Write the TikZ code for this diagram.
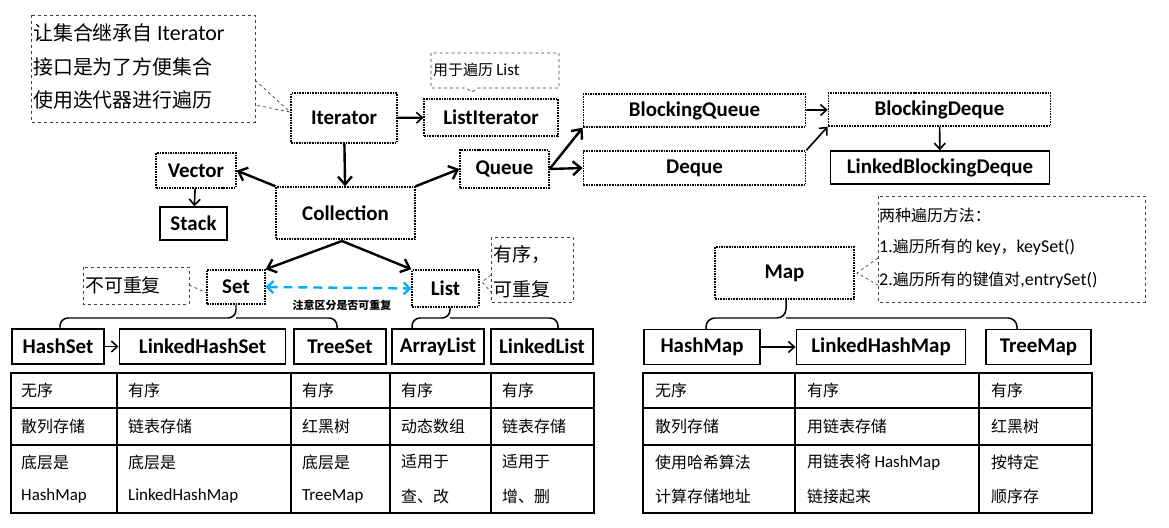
\documentclass[tikz,border=0pt]{standalone}
\usepackage{fontspec}
\setmainfont{Carlito}
\newfontfamily\cjk{Noto Sans CJK SC}
\usetikzlibrary{arrows.meta,decorations.pathreplacing}
\begin{document}
\begin{tikzpicture}[x=1bp,y=-1bp,
 dot/.style={draw,densely dotted,line width=1.6pt,font=\bfseries\fontsize{21}{21}\selectfont,inner sep=0},
 sol/.style={draw,line width=1.6pt,font=\bfseries\fontsize{21}{21}\selectfont,inner sep=0},
 note/.style={draw=black!75,dashed,line width=0.7pt},
 ar/.style={-{Straight Barb[length=8pt,width=14pt,line width=2.4pt]},line width=2.4pt},
 ars/.style={-{Straight Barb[length=6pt,width=11pt,line width=1.6pt]},line width=1.6pt},
 cell/.style={anchor=west,font=\cjk\fontsize{16}{16}\selectfont,inner sep=0},
 ntxt/.style={anchor=west,inner sep=0}]
\useasboundingbox (0,0) rectangle (1169,528);
% notes
\draw[note] (31,15) rectangle (255,122);
\node[ntxt,font=\cjk\fontsize{20}{20}\selectfont] (n1a) at (33,33) {让集合继承自 {\rmfamily\fontsize{22}{22}\selectfont Iterator}};
\node[ntxt,font=\cjk\fontsize{20}{20}\selectfont] (n1b) at (33,67) {接口是为了方便集合};
\node[ntxt,font=\cjk\fontsize{20}{20}\selectfont] (n1c) at (33,100) {使用迭代器进行遍历};
\draw[note] (255,80) -- (290,112) -- (255,105);
\draw[note] (431,53) -- (431,88) -- (466,88) -- (472,92) -- (478,88) -- (559,88) -- (559,53) -- cycle;
\node[ntxt,font=\cjk\fontsize{15}{15}\selectfont] (n2) at (433,70) {用于遍历 {\rmfamily\fontsize{17}{17}\selectfont List}};
\draw[note] (83,267) rectangle (189,304);
\node[ntxt,font=\cjk\fontsize{19}{19}\selectfont] (n3) at (85,285) {不可重复};
\draw[note] (189,285) -- (207,293);
\draw[note] (491,237) rectangle (573,302);
\node[ntxt,font=\cjk\fontsize{19}{19}\selectfont] (n4a) at (493,255) {有序，};
\node[ntxt,font=\cjk\fontsize{19}{19}\selectfont] (n4b) at (493,289) {可重复};
\draw[note] (491,275) -- (482,282) -- (491,292);
\draw[note] (878,196) rectangle (1145,302);
\node[ntxt,font=\cjk\fontsize{16}{16}\selectfont] (n5a) at (879,215) {两种遍历方法：};
\node[ntxt,font=\cjk\fontsize{16}{16}\selectfont] (n5b) at (879,247) {{\rmfamily\fontsize{18}{18}\selectfont 1.}遍历所有的 {\rmfamily\fontsize{18}{18}\selectfont key}，{\rmfamily\fontsize{18}{18}\selectfont keySet()}};
\node[ntxt,font=\cjk\fontsize{16}{16}\selectfont] (n5c) at (879,280) {{\rmfamily\fontsize{18}{18}\selectfont 2.}遍历所有的键值对{\rmfamily\fontsize{18}{18}\selectfont ,entrySet()}};
\draw[note] (878,258) -- (857,273) -- (878,285);
% nodes
\node[dot,minimum width=106,minimum height=50] (it) at (344,118) {Iterator};
\node[dot,minimum width=134,minimum height=37] (li) at (491,117.5) {ListIterator};
\node[dot,minimum width=80,minimum height=35] (vec) at (196,170.5) {Vector};
\node[sol,minimum width=67,minimum height=33] (st) at (193.5,223.5) {Stack};
\node[dot,minimum width=139,minimum height=52] (col) at (345.5,213) {Collection};
\node[dot,minimum width=89,minimum height=38] (q) at (504.5,169) {Queue};
\node[dot,minimum width=223,minimum height=33] (bq) at (694.5,110.5) {BlockingQueue};
\node[dot,minimum width=223,minimum height=34] (dq) at (694.5,168) {Deque};
\node[dot,minimum width=223,minimum height=33] (bd) at (939.5,109.5) {BlockingDeque};
\node[sol,minimum width=220,minimum height=33] (lbd) at (940,167.5) {LinkedBlockingDeque};
\node[dot,minimum width=58,minimum height=34] (set) at (236,287) {Set};
\node[dot,minimum width=67,minimum height=37] (lst) at (445.5,288.5) {List};
\node[dot,minimum width=139,minimum height=52] (map) at (784.5,273) {Map};
% header boxes
\node[sol,minimum width=92,minimum height=35] (hs) at (58,346.5) {HashSet};
\node[sol,minimum width=167,minimum height=35] (lhs) at (202.5,346.5) {LinkedHashSet};
\node[sol,minimum width=92,minimum height=35] (ts) at (340,346.5) {TreeSet};
\node[sol,minimum width=92,minimum height=35] (al) at (438,346.5) {ArrayList};
\node[sol,minimum width=102,minimum height=35] (ll) at (542,346.5) {LinkedList};
\node[sol,minimum width=116,minimum height=35] (hm) at (702,347) {HashMap};
\node[sol,minimum width=170,minimum height=35] (lhm) at (881,347) {LinkedHashMap};
\node[sol,minimum width=105,minimum height=35] (tm) at (1038.5,347) {TreeMap};
% arrows
\draw[ars,line width=2.2pt] (it) -- (li);
\draw[ar] (it) -- (col);
\draw[ar] (col.north west) -- (vec.east);
\draw[ars] (vec) -- (st);
\draw[ar] (col.north east) -- (q.west);
\draw[ar] (q.east) -- (bq.south west);
\draw[ar] (q.east) -- (dq.west);
\draw[ars] (bq) -- (bd);
\draw[ars] (dq.north east) -- (bd.south west);
\draw[ars] (bd) -- (lbd);
\coordinate (apex) at (342,241);
\draw[ar] (apex) -- (set.north east);
\draw[ar] (apex) -- (lst.north west);
\draw[{Straight Barb[length=6pt,width=12pt,line width=2.4pt]}-{Straight Barb[length=6pt,width=12pt,line width=2.4pt]},dash pattern=on 9pt off 6pt,line width=2.4pt,draw={rgb,255:red,0;green,176;blue,240}] (set.east) -- (lst.west);
\node[font=\cjk\bfseries\fontsize{11}{11}\selectfont,inner sep=0] (lab) at (342,305) {注意区分是否可重复};
\draw[ars] (hs) -- (lhs);
\draw[ars] (hm) -- (lhm);
% braces
\draw[line width=1.5pt,rounded corners=8pt] (60,329) -- (60,318) -- (236,318) -- (236,305) (236,318) -- (337,318) -- (337,329);
\draw[line width=1.5pt,rounded corners=8pt] (412,329) -- (412,318) -- (450,318) -- (450,308) (450,318) -- (558,318) -- (558,329);
\draw[line width=1.5pt,rounded corners=9pt] (706,329) -- (706,318) -- (786,318) -- (786,299) (786,318) -- (1017,318) -- (1017,329);
% tables
\begin{scope}[line width=2pt]
\draw (11,373) rectangle (594,513);
\foreach \y in {408,445} \draw (11,\y) -- (594,\y);
\foreach \x in {117,291,390,491} \draw (\x,373) -- (\x,513);
\draw (643,373) rectangle (1092,513);
\foreach \y in {408,445} \draw (643,\y) -- (1092,\y);
\foreach \x in {795,979} \draw (\x,373) -- (\x,513);
\end{scope}
\foreach \x/\a/\b/\c/\d in {21/无序/散列存储/底层是/{\rmfamily\fontsize{17}{17}\selectfont HashMap},128/有序/链表存储/底层是/{\rmfamily\fontsize{17}{17}\selectfont LinkedHashMap},302/有序/红黑树/底层是/{\rmfamily\fontsize{17}{17}\selectfont TreeMap},401/有序/动态数组/适用于/查、改,502/有序/链表存储/适用于/增、删,655/无序/散列存储/使用哈希算法/计算存储地址,807/有序/用链表存储/用链表将 {\rmfamily\fontsize{17}{17}\selectfont HashMap}/链接起来,991/有序/红黑树/按特定/顺序存}{
 \node[cell] at (\x,390) {\a};
 \node[cell] at (\x,426) {\b};
 \node[cell] at (\x,462) {\c};
 \node[cell] at (\x,496) {\d};
}
\end{tikzpicture}
\end{document}
